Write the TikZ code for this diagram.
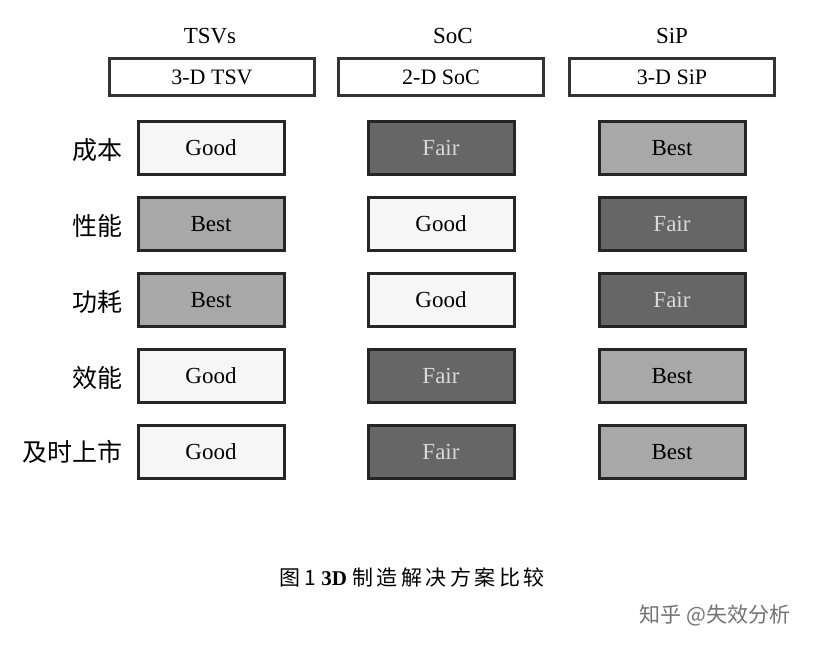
\documentclass[tikz,border=0pt]{standalone}
\usepackage{fontspec}
\setmainfont{Liberation Serif}
\newfontfamily\cjk{Noto Sans CJK SC}
\definecolor{cgood}{HTML}{F6F6F6}
\definecolor{cbest}{HTML}{A8A8A8}
\definecolor{cfair}{HTML}{666666}
\begin{document}
\begin{tikzpicture}[x=1pt,y=-1pt,
  hdr/.style={draw=black!80,line width=2.2pt,minimum width=205pt,minimum height=37pt,font=\fontsize{22}{24}\selectfont,inner sep=0pt},
  cell/.style={draw=black!85,line width=3pt,minimum width=146pt,minimum height=53pt,font=\fontsize{23}{25}\selectfont,inner sep=0pt},
  good/.style={cell,fill=cgood},
  best/.style={cell,fill=cbest},
  fair/.style={cell,fill=cfair,text=black!15},
  rowl/.style={anchor=east,font=\cjk\fontsize{25}{27}\selectfont},
  top/.style={font=\fontsize{23}{25}\selectfont}]
\useasboundingbox[fill=white] (0,0) rectangle (823,648);
\node[top] (t1) at (210,36) {TSVs};
\node[top] (t2) at (453,36) {SoC};
\node[top] (t3) at (672,36) {SiP};
\node[hdr] (h1) at (212,77) {3-D TSV};
\node[hdr] (h2) at (441,77) {2-D SoC};
\node[hdr] (h3) at (672,77) {3-D SiP};
\node[rowl] (r1) at (126,150) {成本};
\node[rowl] (r2) at (126,226) {性能};
\node[rowl] (r3) at (126,302) {功耗};
\node[rowl] (r4) at (126,378) {效能};
\node[rowl] (r5) at (126,452) {及时上市};
\node[good] (a1) at (211,148) {Good};
\node[best] (a2) at (211,224) {Best};
\node[best] (a3) at (211,300) {Best};
\node[good] (a4) at (211,376) {Good};
\node[good] (a5) at (211,452) {Good};
\node[fair] (b1) at (441,148) {Fair};
\node[good] (b2) at (441,224) {Good};
\node[good] (b3) at (441,300) {Good};
\node[fair] (b4) at (441,376) {Fair};
\node[fair] (b5) at (441,452) {Fair};
\node[best] (c1) at (672,148) {Best};
\node[fair] (c2) at (672,224) {Fair};
\node[fair] (c3) at (672,300) {Fair};
\node[best] (c4) at (672,376) {Best};
\node[best] (c5) at (672,452) {Best};
\node[font=\cjk\fontsize{21}{23}\selectfont] (cap) at (412,577) {图\ 1 \rmfamily\bfseries 3D \cjk\mdseries 制\,造\,解\,决\,方\,案\,比\,较};
\node[font=\cjk\fontsize{21}{23}\selectfont,text=black!55] (wm) at (715,615) {知乎 @失效分析};
\end{tikzpicture}
\end{document}
